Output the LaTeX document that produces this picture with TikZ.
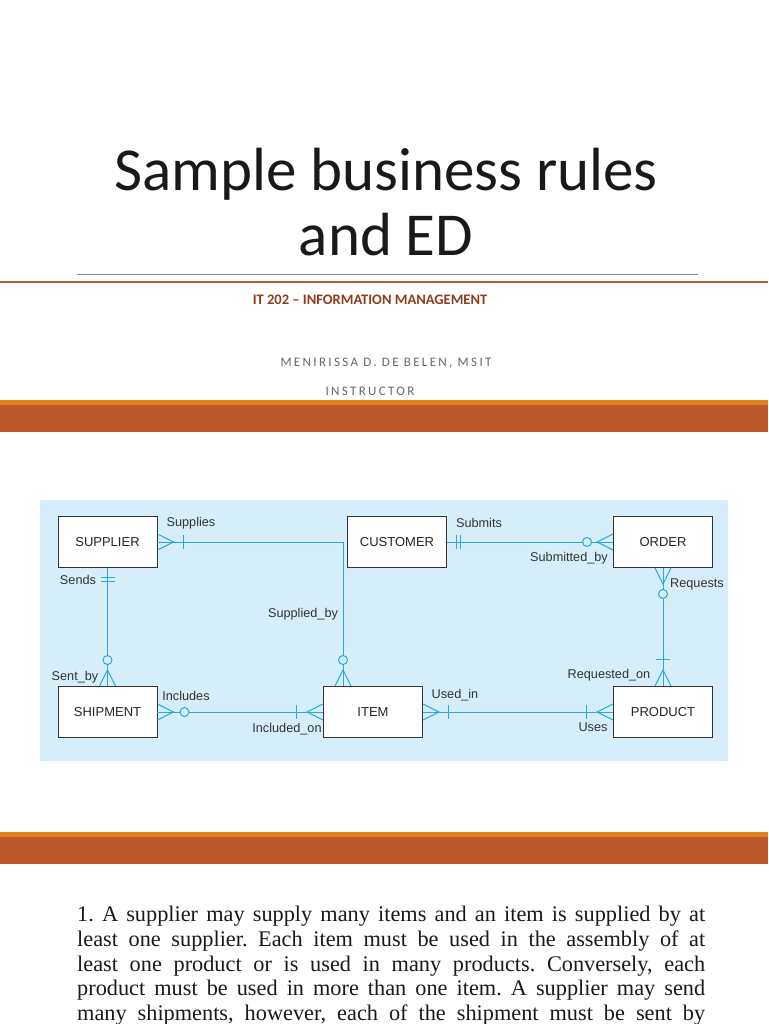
\documentclass[tikz,border=0pt]{standalone}
\usepackage{fontspec}
\setmainfont{Liberation Serif}
\newfontfamily\myCal{Carlito}
\newfontfamily\myCalSp[LetterSpace=18]{Carlito}
\newfontfamily\myArs{Liberation Sans}
\definecolor{erline}{HTML}{29A8E0}
\definecolor{erbg}{HTML}{D6EEFA}
\definecolor{band}{HTML}{BC582C}
\definecolor{bandl}{HTML}{E0801E}
\definecolor{brn}{HTML}{8E3B1F}
\begin{document}
\begin{tikzpicture}[x=1pt,y=-1pt,
  ent/.style={draw=black!80,fill=white,line width=0.9pt,minimum width=99pt,minimum height=51pt,font=\myArs\fontsize{13}{15}\selectfont,text=black!85},
  lab/.style={font=\myArs\fontsize{12.7}{14}\selectfont,text=black!80,inner sep=0pt},
  conn/.style={draw=erline,line width=1pt},
  pics/crow/.style={code={\draw[conn] (0,8)--(16,0)--(0,-8);}},
  pics/mbar/.style={code={\draw[conn] (#1,-7)--(#1,7);}},
  pics/ocirc/.style={code={\draw[conn,fill=erbg] (#1,0) circle (4.5);}}
]
\useasboundingbox (0,0) rectangle (768,1024);
\clip (0,0) rectangle (768,1024);
% title
\node[font=\myCal\fontsize{61}{65}\selectfont,align=center,text=black!90] (title) at (386,202) {Sample business rules\\and ED};
\draw[black!45,line width=0.8pt] (77,274) -- (698,274);
\draw[band,line width=2pt] (0,282) -- (768,282);
\node[font=\myCal\bfseries\fontsize{14.5}{16}\selectfont,text=brn] (course) at (370,300) {IT 202 – INFORMATION MANAGEMENT};
\node[font=\myCalSp\fontsize{13}{15}\selectfont,text=black!60] (name) at (386,363) {MENIRISSA D.\ DE BELEN, MSIT};
\node[font=\myCalSp\fontsize{13}{15}\selectfont,text=black!60] (inst) at (370,391) {INSTRUCTOR};
\fill[bandl] (0,400) rectangle (768,405);
\fill[band] (0,405) rectangle (768,432);
\fill[bandl] (0,832) rectangle (768,837);
\fill[band] (0,837) rectangle (768,864);
% diagram
\fill[erbg] (40,500) rectangle (728,761);
\node[ent] (sup) at (107.5,542) {SUPPLIER};
\node[ent] (cus) at (397,542) {CUSTOMER};
\node[ent] (ord) at (663,542) {ORDER};
\node[ent] (shp) at (107.5,712) {SHIPMENT};
\node[ent] (itm) at (373,712) {ITEM};
\node[ent] (prd) at (663,712) {PRODUCT};
\coordinate (c1) at (343,542);
\draw[conn] (sup.east) -- (c1) -- (itm.north -| c1);
\draw[conn] (sup.south) -- (shp.north);
\draw[conn] (shp.east) -- (itm.west);
\draw[conn] (cus.east) -- (ord.west);
\draw[conn] (ord.south) -- (prd.north);
\draw[conn] (itm.east) -- (prd.west);
% markers
\pic at (sup.east) {crow}; \pic at (sup.east) {mbar=26};
\pic[rotate=90] at (itm.north -| c1) {crow}; \pic[rotate=90] at (itm.north -| c1) {ocirc=26};
\pic[rotate=-90] at (sup.south) {mbar=10}; \pic[rotate=-90] at (sup.south) {mbar=14};
\pic[rotate=90] at (shp.north) {crow}; \pic[rotate=90] at (shp.north) {ocirc=26};
\pic at (shp.east) {crow}; \pic at (shp.east) {ocirc=27};
\pic[rotate=180] at (itm.west) {crow}; \pic[rotate=180] at (itm.west) {mbar=27};
\pic at (cus.east) {mbar=10}; \pic at (cus.east) {mbar=14};
\pic[rotate=180] at (ord.west) {crow}; \pic[rotate=180] at (ord.west) {ocirc=26};
\pic[rotate=-90] at (ord.south) {crow}; \pic[rotate=-90] at (ord.south) {ocirc=26};
\pic[rotate=90] at (prd.north) {crow}; \pic[rotate=90] at (prd.north) {mbar=27};
\pic at (itm.east) {crow}; \pic at (itm.east) {mbar=26};
\pic[rotate=180] at (prd.west) {crow}; \pic[rotate=180] at (prd.west) {mbar=27};
% labels
\node[lab] (l1) at (191,523) {Supplies};
\node[lab] (l2) at (78,580) {Sends};
\node[lab] (l3) at (303,614) {Supplied\_by};
\node[lab] (l4) at (75,677) {Sent\_by};
\node[lab] (l5) at (186,696) {Includes};
\node[lab] (l6) at (287,729) {Included\_on};
\node[lab] (l7) at (479,523) {Submits};
\node[lab] (l8) at (569,558) {Submitted\_by};
\node[lab] (l9) at (697,584) {Requests};
\node[lab] (l10) at (609,675) {Requested\_on};
\node[lab] (l11) at (455,695) {Used\_in};
\node[lab] (l12) at (593,727) {Uses};
% paragraph
\node[anchor=north west,inner sep=0pt,text width=628pt,align=justify,font=\frenchspacing\fontsize{22.3}{24.7}\selectfont,text=black!90] (para) at (77,906)
{1. A supplier may supply many items and an item is supplied by at\linebreak least one supplier. Each item must be used in the assembly of at\linebreak least one product or is used in many products. Conversely, each\linebreak product must be used in more than one item. A supplier may send\linebreak many shipments, however, each of the shipment must be sent by\linebreak};
\end{tikzpicture}
\end{document}
